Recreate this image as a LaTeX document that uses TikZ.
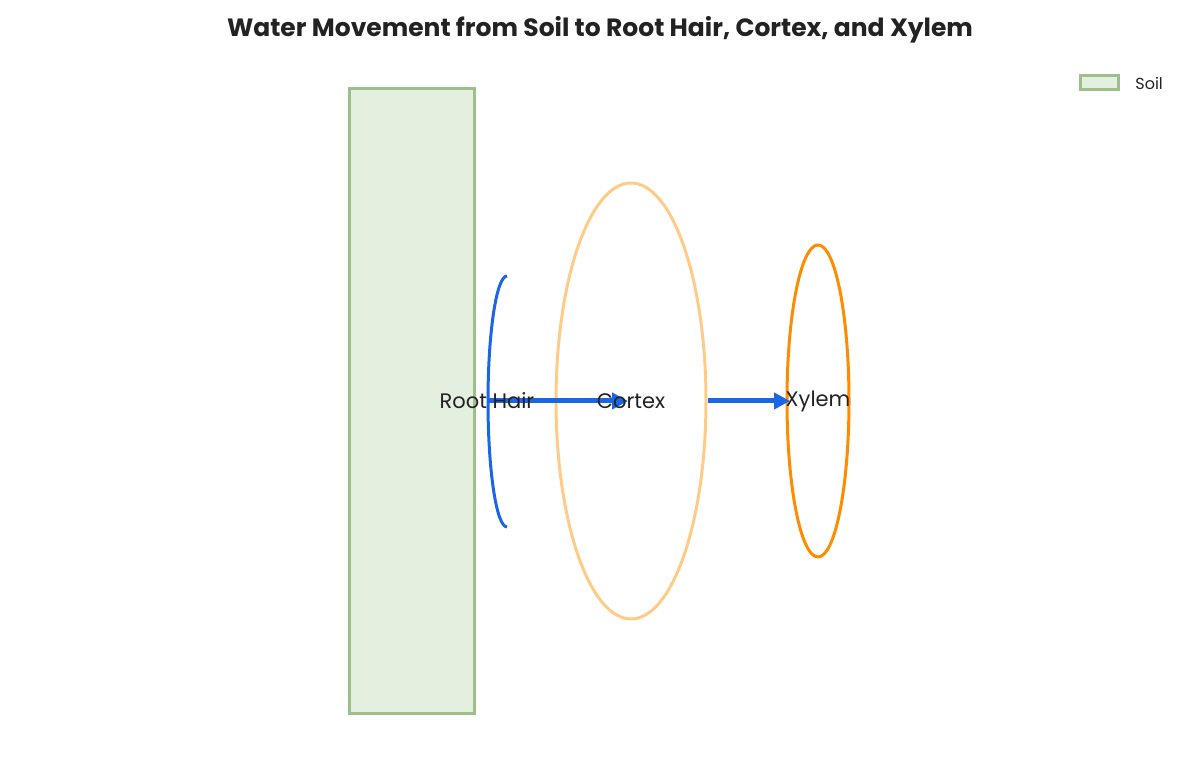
\documentclass[tikz,border=0pt]{standalone}
\usepackage{fontspec}
\setmainfont{Poppins}
\usetikzlibrary{arrows.meta}
\definecolor{soilfill}{HTML}{E3F0E0}
\definecolor{soilline}{HTML}{9DC08B}
\definecolor{hairblue}{HTML}{1A66E6}
\definecolor{cortexc}{HTML}{FFCC88}
\definecolor{xylemc}{HTML}{FF8C00}
\definecolor{txt}{HTML}{222222}
\tikzset{
  lbl/.style={font=\fontsize{10.5}{12}\selectfont, text=txt, inner sep=0pt},
  flow/.style={draw=hairblue, line width=2.5pt, -{Triangle[length=8pt,width=8pt]}},
}
\begin{document}
\begin{tikzpicture}[x=0.5pt,y=-0.5pt]
\useasboundingbox (0,0) rectangle (1200,763);
\node[font=\bfseries\fontsize{12.5}{15}\selectfont, text=txt] (title) at (600,30) {Water Movement from Soil to Root Hair, Cortex, and Xylem};
\draw[fill=soilfill, draw=soilline, line width=1.5pt] (349,89) rectangle (474,714);
\draw[draw=hairblue, line width=1.5pt] (507,276) arc[start angle=-90, end angle=-270, x radius=19, y radius=125.5];
\draw[draw=cortexc, line width=1.5pt] (631,401) ellipse[x radius=75, y radius=218];
\draw[draw=xylemc, line width=1.5pt] (818,401) ellipse[x radius=31, y radius=156];
\coordinate (rhs) at (488,401);
\coordinate (cxe) at (628,401);
\coordinate (cxs) at (708,401);
\coordinate (xye) at (790,401);
\draw[flow] (rhs) -- (cxe);
\draw[flow] (cxs) -- (xye);
\node[lbl] (rh) at (487,401) {Root Hair};
\node[lbl] (cx) at (631,401) {Cortex};
\node[lbl] (xy) at (818,401) {Xylem};
\draw[fill=soilfill, draw=soilline, line width=1.5pt] (1080,76) rectangle (1118,90);
\node[lbl, anchor=west, font=\fontsize{8}{10}\selectfont] (leg) at (1135,83) {Soil};
\end{tikzpicture}
\end{document}
